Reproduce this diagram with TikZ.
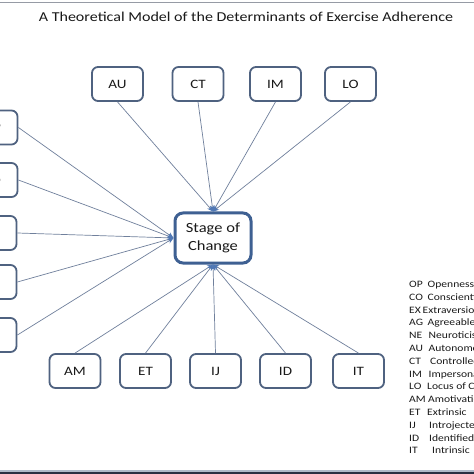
\documentclass[tikz,border=0pt]{standalone}
\usepackage{fontspec}
\setmainfont{Carlito}[FakeStretch=1.18]
\usetikzlibrary{arrows.meta}
\definecolor{boxline}{RGB}{79,98,128}
\definecolor{stageline}{RGB}{62,96,146}
\definecolor{connc}{RGB}{112,128,156}
\definecolor{tipc}{RGB}{79,119,180}
\definecolor{txt}{RGB}{25,25,25}
\definecolor{topline}{RGB}{150,155,165}
\definecolor{barc}{RGB}{42,47,66}
\definecolor{barlight}{RGB}{175,185,200}
\tikzset{
  fbox/.style={draw=boxline, line width=1.8bp, rounded corners=6bp,
    minimum width=51bp, minimum height=34bp, inner sep=0pt, fill=white,
    text=txt, font=\fontsize{12.8bp}{15bp}\selectfont},
  stagebox/.style={draw=stageline, line width=3bp, rounded corners=8bp,
    minimum width=76bp, minimum height=50bp, inner sep=0pt, fill=white,
    align=center, text=txt, font=\fontsize{14bp}{18.5bp}\selectfont},
  connector/.style={draw=connc, line width=0.7bp,
    -{Stealth[length=6bp,width=5bp,color=tipc]}},
  legtext/.style={anchor=base west, inner sep=0pt, text=txt,
    font=\fontsize{9.8bp}{12bp}\selectfont},
  titletext/.style={inner sep=0pt, text=txt, font=\fontsize{13.6bp}{16bp}\selectfont}
}
\begin{document}
\begin{tikzpicture}[x=1bp,y=-1bp]
  \fill[white] (0,0) rectangle (474,474);
  \useasboundingbox (0,0) rectangle (474,474);
  % frame lines
  \draw[topline, line width=0.8bp] (0,2.2) -- (474,2.2);
  \fill[barlight] (0,470.3) rectangle (474,471.6);
  \fill[barc] (0,471.6) rectangle (474,474);
  % title
  \node[titletext] (title) at (246,17) {A Theoretical Model of the Determinants of Exercise Adherence};
  % central node
  \node[stagebox] (stage) at (213,238) {Stage of\\Change};
  % top row
  \node[fbox] (AU) at (117.5,84) {AU};
  \node[fbox] (CT) at (198,84) {CT};
  \node[fbox] (IM) at (275.5,84) {IM};
  \node[fbox] (LO) at (350.5,84) {LO};
  % left column (cut by the page edge)
  \node[fbox] (OP) at (-8,127.5) {OP};
  \node[fbox] (CO) at (-8,180) {CO};
  \node[fbox] (EX) at (-9,233) {EX};
  \node[fbox] (AG) at (-9,282) {AG};
  \node[fbox] (NE) at (-9,335) {NE};
  % bottom row
  \node[fbox] (AM) at (75,371) {AM};
  \node[fbox] (ET) at (145.5,371) {ET};
  \node[fbox] (IJ) at (215.5,371) {IJ};
  \node[fbox] (ID) at (285.5,371) {ID};
  \node[fbox] (IT) at (358.5,371) {IT};
  % connectors
  \foreach \n in {AU,CT,IM,LO} \draw[connector] (\n.south) -- (stage.north);
  \foreach \n in {OP,CO,EX,AG,NE} \draw[connector] (\n.east) -- (stage.west);
  \foreach \n in {AM,ET,IJ,ID,IT} \draw[connector] (\n.north) -- (stage.south);
  % legend
  \foreach \c/\d/\dx [count=\i from 0] in {
      OP/Openness/427.5, CO/Conscientiousness/427.5, EX/Extraversion/422.5,
      AG/Agreeableness/427.5, NE/Neuroticism/428.5, AU/Autonomous/428.5,
      CT/Controlled/430, IM/Impersonal/428.5, LO/Locus of Control/427,
      AM/Amotivation/428, ET/Extrinsic/427, IJ/Introjected/429,
      ID/Identified/429, IT/Intrinsic/432} {
    \node[legtext] (lc\i) at (409,{287.5+12.8*\i}) {\c};
    \node[legtext] (ld\i) at (\dx,{287.5+12.8*\i}) {\d};
  }
\end{tikzpicture}
\end{document}
